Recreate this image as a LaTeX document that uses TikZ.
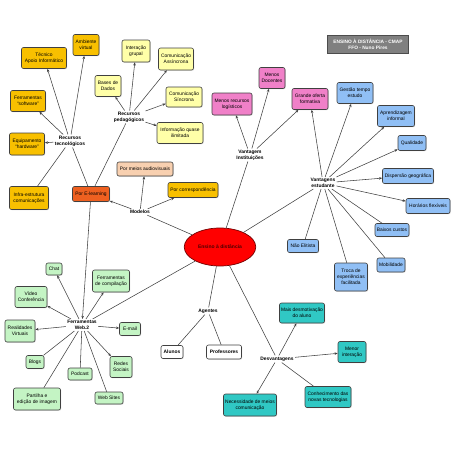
\documentclass[tikz,border=0pt]{standalone}
\usepackage{fontspec}
\setmainfont{Liberation Sans}
\usetikzlibrary{shapes.geometric,arrows.meta,shadows}
\definecolor{cOr}{HTML}{F8C000}
\definecolor{cEl}{HTML}{EE6020}
\definecolor{cYe}{HTML}{FFFFA8}
\definecolor{cSa}{HTML}{F8D0B0}
\definecolor{cPi}{HTML}{F080C8}
\definecolor{cBl}{HTML}{90BFF5}
\definecolor{cGr}{HTML}{C4F4C4}
\definecolor{cTe}{HTML}{30C8C4}
\definecolor{cLn}{HTML}{404040}
\tikzset{
  ob/.style={draw=black!75, line width=0.6pt, rounded corners=2pt, align=center,
    font=\fontsize{4.9}{5.8}\selectfont, inner sep=0.8pt,
    drop shadow={shadow xshift=0.7pt, shadow yshift=-0.7pt, fill=black!35}},
  lab/.style={font=\bfseries\fontsize{4.9}{5.8}\selectfont, align=center, inner sep=1.2pt},
  arr/.style={draw=cLn, line width=0.55pt, -{Stealth[length=3.2pt,width=2.6pt]}},
  ln/.style={draw=cLn, line width=0.55pt},
}
\begin{document}
\begin{tikzpicture}[x=1pt,y=-1pt]
\useasboundingbox (0,0) rectangle (453,453);
% title
\node[draw=black!70, line width=0.8pt, fill=black!50, text=white, align=center,
  font=\bfseries\fontsize{4.8}{5.8}\selectfont, minimum width=81, minimum height=18,
  inner sep=1pt] (title) at (368,44) {ENSINO À DISTÂNCIA - CMAP\\FFO - Nuno Pires};
% center
\node[ellipse, draw=red!45!black, line width=0.7pt, fill=red, minimum width=68, minimum height=38,
  font=\bfseries\fontsize{5}{6}\selectfont, text=red!30!black] (ctr) at (220,247) {Ensino à distância};
% orange group
\node[lab] (rt) at (70,141) {Recursos\\tecnológicos};
\node[ob, fill=cOr, minimum width=45, minimum height=21] (tec) at (44,58) {Técnico\\Apoio Informático};
\node[ob, fill=cOr, minimum width=26, minimum height=21] (amb) at (86,45) {Ambiente\\virtual};
\node[ob, fill=cOr, minimum width=35, minimum height=21] (fsw) at (28,101) {Ferramentas\\“software”};
\node[ob, fill=cOr, minimum width=35, minimum height=22] (hw) at (27,144) {Equipamento\\“hardware”};
\node[ob, fill=cOr, minimum width=39, minimum height=23] (inf) at (29,198) {Infra-estrutura\\comunicações};
\node[ob, fill=cEl, minimum width=37, minimum height=15] (el) at (91,194) {Por E-learning};
% yellow group
\node[lab] (rp) at (129,117) {Recursos\\pedagógicos};
\node[ob, fill=cYe, minimum width=26, minimum height=21] (bd) at (108,86) {Bases de\\Dados};
\node[ob, fill=cYe, minimum width=28, minimum height=22] (ig) at (136,51) {Interação\\grupal};
\node[ob, fill=cYe, minimum width=35, minimum height=22] (ca) at (176,59) {Comunicação\\Assíncrona};
\node[ob, fill=cYe, minimum width=36, minimum height=20] (cs) at (184,97) {Comunicação\\Síncrona};
\node[ob, fill=cYe, minimum width=46, minimum height=21] (iq) at (180,133) {Informação quase\\ilimitada};
% modelos
\node[lab] (mod) at (140,212) {Modelos};
\node[ob, fill=cSa, minimum width=56, minimum height=14] (aud) at (145,169) {Por meios audiovisuais};
\node[ob, fill=cOr, minimum width=50, minimum height=15] (corr) at (193,190) {Por correspondência};
% pink
\node[lab] (vi) at (250,155) {Vantagem\\Instituições};
\node[ob, fill=cPi, minimum width=40, minimum height=22] (mrl) at (232,104) {Menos recursos\\logísticos};
\node[ob, fill=cPi, minimum width=26, minimum height=21] (md) at (272,78) {Menos\\Docentes};
\node[ob, fill=cPi, minimum width=36, minimum height=21] (gof) at (310,99) {Grande oferta\\formativa};
% blue
\node[lab] (ve) at (323,183) {Vantagens\\estudante};
\node[ob, fill=cBl, minimum width=36, minimum height=21] (gte) at (355,93) {Gestão tempo\\estudo};
\node[ob, fill=cBl, minimum width=37, minimum height=21] (ai) at (396,116) {Aprendizagem\\informal};
\node[ob, fill=cBl, minimum width=28, minimum height=15] (qual) at (412,143) {Qualidade};
\node[ob, fill=cBl, minimum width=51, minimum height=15] (dg) at (408,176) {Dispersão geográfica};
\node[ob, fill=cBl, minimum width=44, minimum height=15] (hf) at (428,206) {Horários flexíveis};
\node[ob, fill=cBl, minimum width=34, minimum height=13] (bc) at (392,230) {Baixos custos};
\node[ob, fill=cBl, minimum width=28, minimum height=14] (mob) at (391,265) {Mobilidade};
\node[ob, fill=cBl, minimum width=33, minimum height=28] (tef) at (351,277) {Troca de\\experiências\\facilitada};
\node[ob, fill=cBl, minimum width=31, minimum height=13] (ne) at (303,246) {Não Elitista};
% green
\node[lab] (fw) at (82,325) {Ferramentas\\Web.2};
\node[ob, fill=cGr, minimum width=16, minimum height=12] (chat) at (54,269) {Chat};
\node[ob, fill=cGr, minimum width=37, minimum height=22] (fc) at (111,281) {Ferramentas\\de compilação};
\node[ob, fill=cGr, minimum width=32, minimum height=21] (vc) at (31,297) {Vídeo\\Conferência};
\node[ob, fill=cGr, minimum width=30, minimum height=22] (rv) at (20,331) {Realidades\\Virtuais};
\node[ob, fill=cGr, minimum width=21, minimum height=13] (em) at (130,329) {E-mail};
\node[ob, fill=cGr, minimum width=18, minimum height=13] (blogs) at (35,362) {Blogs};
\node[ob, fill=cGr, minimum width=24, minimum height=12] (pod) at (80,374) {Podcast};
\node[ob, fill=cGr, minimum width=22, minimum height=21] (rs) at (121,367) {Redes\\Sociais};
\node[ob, fill=cGr, minimum width=47, minimum height=22] (pei) at (37,399) {Partilha e\\edição de imagem};
\node[ob, fill=cGr, minimum width=28, minimum height=12] (ws) at (109,398) {Web Sites};
% agentes
\node[lab] (ag) at (208,311) {Agentes};
\node[ob, fill=white, minimum width=22, minimum height=13, font=\bfseries\fontsize{4.9}{5.8}\selectfont] (alu) at (172,352) {Alunos};
\node[ob, fill=white, minimum width=35, minimum height=14, font=\bfseries\fontsize{4.9}{5.8}\selectfont] (prof) at (224,352) {Professores};
% teal
\node[lab] (des) at (277,359) {Desvantagens};
\node[ob, fill=cTe, minimum width=45, minimum height=20] (mda) at (302,313) {Mais desmotivação\\do aluno};
\node[ob, fill=cTe, minimum width=28, minimum height=21] (mi) at (352,352) {Menor\\interação};
\node[ob, fill=cTe, minimum width=53, minimum height=22] (nmc) at (250,405) {Necessidade de meios\\comunicação};
\node[ob, fill=cTe, minimum width=46, minimum height=21] (cnt) at (328,397) {Conhecimento das\\novas tecnologias};
% connectors
\foreach \t in {tec,amb,fsw,hw} \draw[arr] (rt) -- (\t);
\draw[ln] (rt) -- (inf);
\draw[ln] (el) -- (rt);
\draw[ln] (el) -- (rp);
\foreach \t in {bd,ig,ca,cs,iq} \draw[arr] (rp) -- (\t);
\foreach \t in {el,aud,corr} \draw[arr] (mod) -- (\t);
\draw[ln] (mod) -- (ctr);
\foreach \t in {mrl,md,gof} \draw[arr] (vi) -- (\t);
\draw[ln] (vi) -- (ctr);
\foreach \t in {gof,gte,ai,qual,dg,hf} \draw[arr] (ve) -- (\t);
\foreach \t in {bc,mob,tef,ne} \draw[ln] (ve) -- (\t);
\draw[ln] (ve) -- (ctr);
\draw[arr] (el) -- (fw);
\draw[ln] (ctr) -- (fw);
\foreach \t in {chat,fc,vc,rv,em,rs} \draw[arr] (fw) -- (\t);
\foreach \t in {blogs,pod,pei,ws} \draw[ln] (fw) -- (\t);
\draw[ln] (ctr) -- (ag);
\draw[ln] (ag) -- (alu);
\draw[ln] (ag) -- (prof);
\draw[ln] (ctr) -- (des);
\foreach \t in {mda,mi,nmc} \draw[arr] (des) -- (\t);
\draw[ln] (des) -- (cnt);
\end{tikzpicture}
\end{document}
